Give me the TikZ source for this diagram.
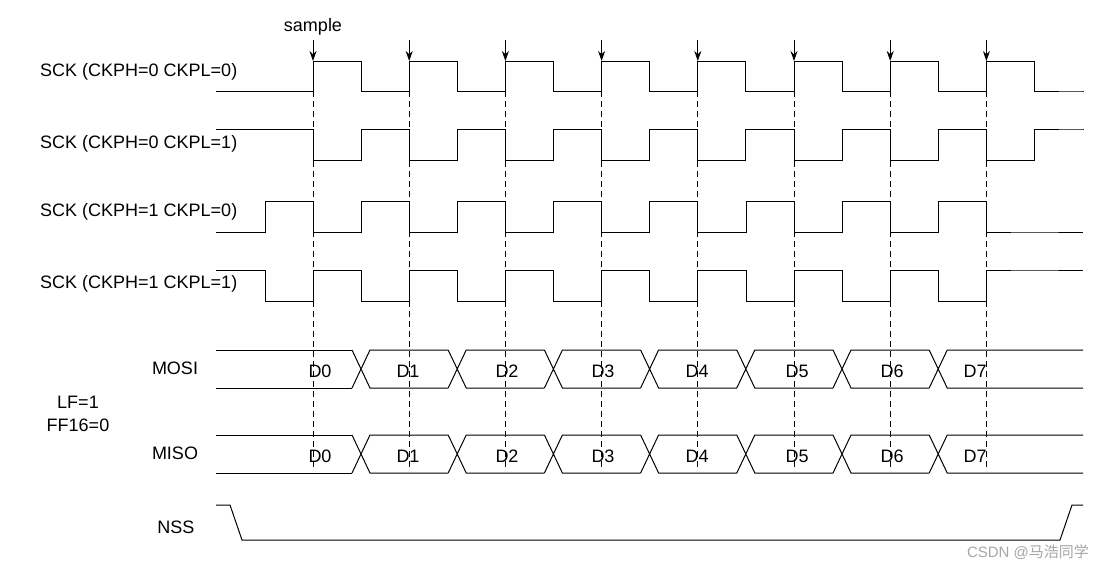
\documentclass[tikz,border=0pt]{standalone}
\usepackage{fontspec}
\setmainfont{Liberation Sans}
\newfontfamily\cjk{Noto Sans CJK SC}
\usetikzlibrary{arrows.meta,positioning}

\tikzset{
  wave/.style={line width=1pt, line join=miter},
  guide/.style={line width=0.8pt, dash pattern=on 6pt off 4pt},
  lbl/.style={font=\fontsize{18}{21}\selectfont, inner sep=0pt},
}

\begin{document}
\begin{tikzpicture}[x=1pt, y=-1pt]
  \useasboundingbox (0,0) rectangle (1113,570);
  \def\p{96.2}

  % Signal names
  \node[lbl, anchor=west] (s1) at (40,72) {SCK (CKPH=0 CKPL=0)};
  \node[lbl, anchor=west] (s2) at (40,144) {SCK (CKPH=0 CKPL=1)};
  \node[lbl, anchor=west] (s3) at (40,212) {SCK (CKPH=1 CKPL=0)};
  \node[lbl, anchor=west] (s4) at (40,284) {SCK (CKPH=1 CKPL=1)};
  \node[lbl] (mosi) at (175,368) {MOSI};
  \node[lbl] (miso) at (175,453) {MISO};
  \node[lbl] (nss) at (176,527) {NSS};
  \node[lbl, align=center] (lf) at (78,414) {LF=1\\[2pt]FF16=0};

  % Sample markers
  \node[lbl] (smp) at (313,27) {sample};
  \foreach \k in {0,...,7} {
    \coordinate (e\k) at ({313+\k*\p},61);
    \coordinate (t\k) at ({313+\k*\p},40);
    \draw[-{Stealth[length=10pt,width=7pt]}, line width=0.8pt] (t\k) -- (e\k);
    \draw[guide] (e\k) -- ++(0,409);
  }

  % SCK CKPH=0 CKPL=0
  \draw[wave] (216,91) -- (313,91)
    \foreach \k in {0,...,7} { -- ++(0,-30) -- ++(48.1,0) -- ++(0,30) -- ++(48.1,0) }
    -- (1083,91);
  % SCK CKPH=0 CKPL=1
  \draw[wave] (216,129) -- (313,129)
    \foreach \k in {0,...,7} { -- ++(0,31) -- ++(48.1,0) -- ++(0,-31) -- ++(48.1,0) }
    -- (1083,129);
  % SCK CKPH=1 CKPL=0
  \draw[wave] (216,232) -- (265,232)
    \foreach \k in {0,...,7} { -- ++(0,-31) -- ++(48.1,0) -- ++(0,31) -- ++(48.1,0) }
    -- (1083,232);
  % SCK CKPH=1 CKPL=1
  \draw[wave] (216,270) -- (265,270)
    \foreach \k in {0,...,7} { -- ++(0,31) -- ++(48.1,0) -- ++(0,-31) -- ++(48.1,0) }
    -- (1083,270);

  % Data buses
  \foreach \yt/\nm in {350/mo, 435/mi} {
    \pgfmathsetmacro\yb{\yt+38}
    \pgfmathsetmacro\ym{\yt+21}
    \draw[wave] (216,\yt) -- (352,\yt) (216,\yb) -- (352,\yb);
    \foreach \k in {0,...,6} {
      \pgfmathsetmacro\xc{361+\k*\p}
      \pgfmathsetmacro\xe{\k<6 ? 361+(\k+1)*\p-9 : 1083}
      \draw[wave] ({\xc-9},\yt) -- ({\xc+9},\yb) -- (\xe,\yb)
                  ({\xc-9},\yb) -- ({\xc+9},\yt) -- (\xe,\yt);
    }
    \foreach \x [count=\i from 0] in {320,408,507,603,697,797,892,975}
      \node[lbl] (\nm d\i) at (\x,\ym) {D\i};
  }

  % NSS
  \draw[wave] (216,505) -- (230,505) -- (242,540) -- (1060,540) -- (1072,505) -- (1083,505);

  % Watermark
  \node[lbl, text=gray!70, font=\fontsize{15}{17}\selectfont] (wm) at (1028,552) {CSDN @{\cjk 马浩同学}};
\end{tikzpicture}
\end{document}
